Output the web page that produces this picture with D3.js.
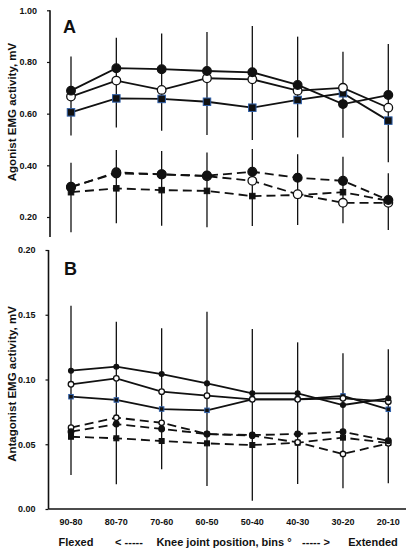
<!DOCTYPE html>
<html><head><meta charset="utf-8">
<script src="https://cdn.jsdelivr.net/npm/d3@7"></script>
<style>body{margin:0;background:#fff}svg{display:block}text{font-family:"Liberation Sans",Arial,sans-serif;font-weight:bold;fill:#111}</style>
</head><body>
<svg id="c" width="409" height="550"></svg>
<script>
const bins = ["90-80","80-70","70-60","60-50","50-40","40-30","30-20","20-10"];
// Panel A: agonist EMG (mV)
const agoFilled  = [0.689,0.776,0.772,0.765,0.760,0.711,0.637,0.672];
const agoOpen    = [0.666,0.728,0.692,0.737,0.733,0.689,0.700,0.623];
const agoSquare  = [0.605,0.659,0.657,0.646,0.623,0.653,0.679,0.573];
const agoFilledD = [0.317,0.369,0.365,0.360,0.375,0.352,0.340,0.266];
const agoOpenD   = [0.315,0.373,0.365,0.358,0.340,0.288,0.255,0.255];
const agoSquareD = [0.296,0.311,0.304,0.301,0.281,0.285,0.296,0.263];
const agoHi      = [0.821,0.894,0.910,0.916,0.939,0.898,0.840,0.870];
const agoLo      = [0.515,0.546,0.534,0.517,0.498,0.508,0.507,0.412];
const agoHiD     = [0.410,0.459,0.455,0.450,0.463,0.443,0.433,0.369];
const agoLoD     = [0.141,0.176,0.166,0.160,0.165,0.169,0.176,0.150];
const agoTicks   = [0.20,0.40,0.60,0.80,1.00];
// Panel B: antagonist EMG (mV)
const antFilled  = [0.1068,0.1099,0.1042,0.0970,0.0893,0.0893,0.0803,0.0855];
const antOpen    = [0.0963,0.1009,0.0906,0.0875,0.0847,0.0847,0.0855,0.0829];
const antSquare  = [0.0867,0.0842,0.0772,0.0762,0.0847,0.0847,0.0873,0.0770];
const antFilledD = [0.0597,0.0656,0.0618,0.0579,0.0571,0.0579,0.0597,0.0527];
const antOpenD   = [0.0628,0.0705,0.0666,0.0579,0.0566,0.0515,0.0425,0.0507];
const antSquareD = [0.0558,0.0546,0.0525,0.0507,0.0494,0.0512,0.0551,0.0510];
const antHi      = [0.157,0.1446,0.1395,0.1524,0.139,0.1287,0.1202,0.1233];
const antLo      = [0.0263,0.0191,0.0307,0.0178,0.0064,0.0193,0.0160,0.0198];
const antTicks   = [0.00,0.05,0.10,0.15,0.20];

const svg = d3.select("#c");
const x = d3.scalePoint().domain(bins).range([71,388.3]);
const yA = d3.scaleLinear().domain([0.1226,1.0]).range([237,10.3]);
const yB = d3.scaleLinear().domain([0,0.20]).range([509,250]);

function axisY(y, ticks, xPos, top, bottom){
  const g = svg.append("g").attr("transform",`translate(${xPos},0)`);
  const ax = d3.axisLeft(y).tickValues(ticks).tickFormat(d3.format(".2f")).tickSize(3).tickPadding(10);
  g.call(ax);
  g.select(".domain").remove();
  g.selectAll(".tick line").attr("stroke","#111").attr("stroke-width",1.2);
  g.selectAll(".tick text").style("font-size","9px").attr("fill","#111").style("font-family",'"Liberation Sans",Arial,sans-serif');
  g.append("line").attr("x1",0).attr("x2",0).attr("y1",top).attr("y2",bottom).attr("stroke","#111").attr("stroke-width",1.6);
}
axisY(yA, agoTicks, 50, yA(1.0), yA.range()[0]);
axisY(yB, antTicks, 48.5, yB(0.20), yB(0));
// x axis line panel B
svg.append("line").attr("x1",48.5).attr("x2",406).attr("y1",yB(0)).attr("y2",yB(0)).attr("stroke","#111").attr("stroke-width",1.6);

// x tick labels
svg.append("g").selectAll("text").data(bins).join("text")
  .attr("x",d=>x(d)).attr("y",525).attr("text-anchor","middle").style("font-size","9px").text(d=>d);
const row = [["Flexed",76],["< -----",129],["Knee joint position, bins °",224],["----- >",316],["Extended",373]];
svg.append("g").selectAll("text").data(row).join("text")
  .attr("x",d=>d[1]).attr("y",546).attr("text-anchor","middle").style("font-size","11px").text(d=>d[0]);

// axis titles
svg.append("text").attr("transform","translate(16,112) rotate(-90)").attr("text-anchor","middle").style("font-size","11.5px").text("Agonist EMG activity, mV");
svg.append("text").attr("transform","translate(16,384) rotate(-90)").attr("text-anchor","middle").style("font-size","11.5px").text("Antagonist EMG activity, mV");
// panel letters
svg.append("text").attr("x",63).attr("y",33).style("font-size","18px").text("A");
svg.append("text").attr("x",64).attr("y",275).style("font-size","18px").text("B");

function errBars(y, hi, lo){
  svg.append("g").selectAll("line").data(bins).join("line")
    .attr("x1",d=>x(d)).attr("x2",d=>x(d))
    .attr("y1",(d,i)=>y(hi[i])).attr("y2",(d,i)=>y(lo[i]))
    .attr("stroke","#111").attr("stroke-width",1.3);
}
errBars(yA, agoHi, agoLo);
errBars(yA, agoHiD, agoLoD);
errBars(yB, antHi, antLo);

function series(y, vals, dashed, marker, size){
  const line = d3.line().x((d,i)=>x(bins[i])).y(d=>y(d));
  svg.append("path").datum(vals).attr("d",line).attr("fill","none")
    .attr("stroke","#111").attr("stroke-width",1.8)
    .attr("stroke-dasharray",dashed?"9,5":null);
  const g = svg.append("g");
  if(marker==="sq" || marker==="sqb"){
    g.selectAll("rect").data(vals).join("rect")
      .attr("x",(d,i)=>x(bins[i])-size/2).attr("y",d=>y(d)-size/2)
      .attr("width",size).attr("height",size).attr("fill","#111")
      .attr("stroke",marker==="sqb"?"#2f5fa8":"#111").attr("stroke-width",1);
  } else {
    g.selectAll("circle").data(vals).join("circle")
      .attr("cx",(d,i)=>x(bins[i])).attr("cy",d=>y(d)).attr("r",size)
      .attr("fill",marker==="open"?"#fff":"#111").attr("stroke","#111").attr("stroke-width",1.3);
  }
}
// Panel A
series(yA, agoSquareD, true, "sq", 5.5);
series(yA, agoOpenD, true, "open", 4.3);
series(yA, agoFilledD, true, "filled", 4.4);
series(yA, agoSquare, false, "sqb", 7.5);
series(yA, agoOpen, false, "open", 4.3);
series(yA, agoFilled, false, "filled", 4.3);
// Panel B
series(yB, antSquareD, true, "sq", 5);
series(yB, antOpenD, true, "open", 2.7);
series(yB, antFilledD, true, "filled", 2.8);
series(yB, antSquare, false, "sqb", 4.5);
series(yB, antOpen, false, "open", 2.8);
series(yB, antFilled, false, "filled", 2.4);
</script>
</body></html>
